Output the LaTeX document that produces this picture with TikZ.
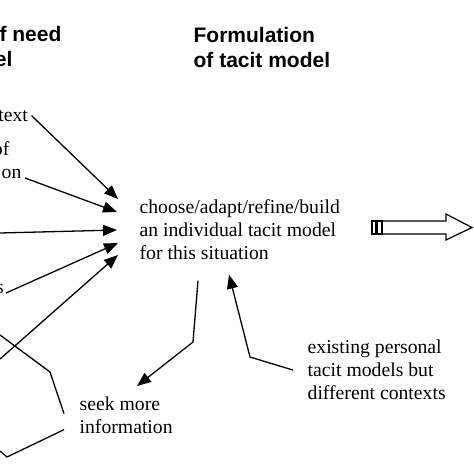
\documentclass[tikz,border=0pt]{standalone}
\usepackage{fontspec}
\setmainfont{Liberation Serif}
\newfontfamily\headfont{Liberation Sans}
\usepackage{tikz}
\usetikzlibrary{arrows.meta, positioning}

\begin{document}
\begin{tikzpicture}[x=1pt, y=-1pt, line width=1.3pt,
    >={Triangle[length=14pt, width=11pt]},
    txt/.style={inner sep=0pt, align=left, font=\fontsize{19.7}{23}\selectfont},
    head/.style={inner sep=0pt, align=left, font=\headfont\bfseries\fontsize{21}{25}\selectfont}]
    \useasboundingbox (0,0) rectangle (474,474);
    \clip (0,0) rectangle (474,474);

    % Headings
    \node[head, anchor=base east] (needA) at (62,41.5) {f need};
    \node[head, anchor=base east] (needB) at (13,66.5) {el};
    \node[head, anchor=north west] (form) at (193,26.2) {Formulation\\of tacit model};

    % Texts cut at the left edge
    \node[txt, anchor=base east] (ctxt) at (28.5,121) {text};
    \node[txt, anchor=base east] (cof) at (10,155) {of};
    \node[txt, anchor=base east] (cinfo) at (22,178) {on};
    \node[txt, anchor=base east] (cs) at (4.5,293) {s};

    % Main texts
    \node[txt, anchor=north west] (choose) at (139,198.8)
        {choose/adapt/refine/build\\an individual tacit model\\for this situation};
    \node[txt, anchor=north west] (seek) at (79,396.5) {seek more\\information};
    \node[txt, anchor=north west] (exist) at (307,339.5)
        {existing personal\\tacit models but\\different contexts};

    % Free ends and bends
    \coordinate (inA) at (118,199);
    \coordinate (inB) at (117,212);
    \coordinate (inC) at (117,230);
    \coordinate (inD) at (118,243);
    \coordinate (inE) at (118,255);
    \coordinate (edgeC) at (0,233);
    \coordinate (edgeE) at (0,359);
    \coordinate (edgeF) at (0,335);
    \coordinate (edgeG) at (0,451);
    \coordinate (bendF) at (50,372);
    \coordinate (bendG) at (7,457);
    \coordinate (bendH) at (193,342);
    \coordinate (tipH) at (137,386);
    \coordinate (bendI) at (250,357);

    % Arrows into the tacit model
    \draw[->] ([xshift=3pt]ctxt.east) -- (inA);
    \draw[->] ([xshift=3pt]cinfo.base east) -- (inB);
    \draw[->] (edgeC) -- (inC);
    \draw[->] ([xshift=1.5pt]cs.base east) -- (inD);
    \draw[->] (edgeE) -- (inE);

    % Lines from seek more information
    \draw ([shift={(-15pt,2pt)}]seek.west) -- (bendF) -- (edgeF);
    \draw ([shift={(-15pt,5pt)}]seek.south west) -- (bendG) -- (edgeG);

    % Down to seek, up from existing models
    \draw[->] ([shift={(59pt,-20.5pt)}]choose.south west) -- (bendH) -- (tipH);
    \draw[->] ([xshift=-14pt]exist.west) -- (bendI) -- ([shift={(90pt,-14.5pt)}]choose.south west);

    % Hollow arrow
    \draw[line width=1.2pt] (372,221) rectangle (376,234);
    \draw[line width=1.2pt] (377.5,221) rectangle (382,234);
    \draw[line width=1.2pt] (382,221) -- (446,221) -- (446,214) -- (472,227.5) -- (446,240)
        -- (446,234) -- (382,234) -- cycle;
\end{tikzpicture}
\end{document}
